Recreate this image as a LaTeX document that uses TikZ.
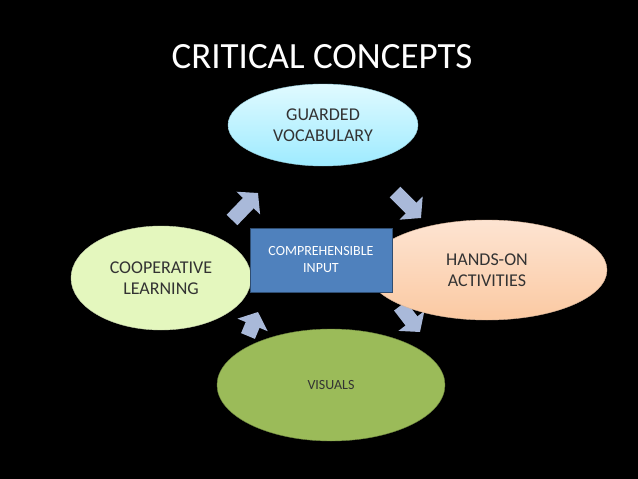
\documentclass[tikz,border=0pt]{standalone}
\usepackage{fontspec}
\setmainfont{Carlito}
\usetikzlibrary{arrows.meta,shapes.geometric}
\definecolor{topblue}{HTML}{9EEBFF}
\definecolor{topblue2}{HTML}{E0FAFF}
\definecolor{leftgreen}{HTML}{E4F7BE}
\definecolor{rightpeach}{HTML}{FBC9A2}
\definecolor{rightpeach2}{HTML}{FDE4D2}
\definecolor{olive}{HTML}{9BBB59}
\definecolor{boxblue}{HTML}{4F81BD}
\definecolor{arrowblue}{HTML}{A9B9D9}

\begin{document}
\begin{tikzpicture}[x=1pt,y=-1pt,
        bubble/.style={draw,ellipse,font=\fontsize{18}{21}\selectfont,align=center,text=black!80},
        blockarrow/.style={line width=15pt,draw=arrowblue,-{Triangle[width=32pt,length=14pt]}}]

    \useasboundingbox[fill=black] (0,0) rectangle (638,479);
    \node[text=white,font=\fontsize{37}{42}\selectfont] (title) at (322,57) {CRITICAL CONCEPTS};

    % arrows behind the bubbles
    \coordinate (a1s) at (232,220); \coordinate (a1e) at (258,193);
    \coordinate (a2s) at (395,192); \coordinate (a2e) at (421,218);
    \coordinate (a3s) at (400,306); \coordinate (a3e) at (420,332);
    \coordinate (a4s) at (248,336); \coordinate (a4e) at (258,312);
    \draw[blockarrow] (a1s) -- (a1e);
    \draw[blockarrow] (a2s) -- (a2e);
    \draw[blockarrow] (a3s) -- (a3e);
    \draw[blockarrow] (a4s) -- (a4e);

    \node[bubble,draw=topblue!70!gray,top color=topblue2,bottom color=topblue,minimum width=190pt,minimum height=82pt] (vocab) at (323,125) {GUARDED\\VOCABULARY};
    \node[bubble,draw=leftgreen!70!gray,fill=leftgreen,minimum width=180pt,minimum height=104pt] (coop) at (161,278) {COOPERATIVE\\LEARNING};
    \node[bubble,draw=rightpeach!70!gray,top color=rightpeach2,bottom color=rightpeach,minimum width=240pt,minimum height=100pt] (hands) at (487,270) {HANDS-ON\\ACTIVITIES};
    \node[bubble,draw=olive!70!black,fill=olive,minimum width=228pt,minimum height=112pt,font=\fontsize{14}{17}\selectfont] (visuals) at (331,385) {VISUALS};

    \node[draw=boxblue!60!black,fill=boxblue,text=white,minimum width=142pt,minimum height=64pt,align=center,font=\fontsize{14}{17}\selectfont] (input) at (321,260) {COMPREHENSIBLE\\INPUT};
\end{tikzpicture}
\end{document}
